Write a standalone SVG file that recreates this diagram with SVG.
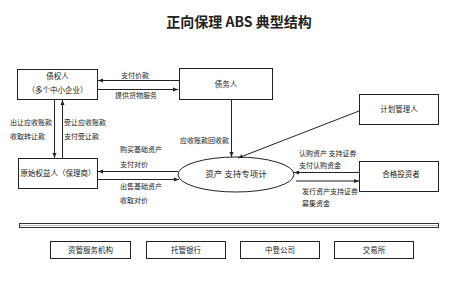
<svg xmlns="http://www.w3.org/2000/svg" width="474" height="284" viewBox="0 0 474 284">
<defs>
<style>
.box{fill:#fff;stroke:#222;stroke-width:1}
.ln{stroke:#222;stroke-width:1;fill:none}
.t{font-family:"Noto Sans CJK SC","Liberation Sans",sans-serif;fill:#222}
.nt{font-size:7.5px;text-anchor:middle}
.lb{font-size:7px}
.ti{font-size:14px;font-weight:bold;text-anchor:middle}
</style>
<marker id="ah" viewBox="0 0 10 10" refX="10" refY="5" markerWidth="5" markerHeight="5" orient="auto" markerUnits="userSpaceOnUse">
<path d="M0,1 L10,5 L0,9 z" fill="#222"/>
</marker>
</defs>
<rect width="474" height="284" fill="#fff"/>
<text class="t ti" x="239" y="27">正向保理 ABS 典型结构</text>

<g id="n-creditor">
<rect class="box" x="17.5" y="69.5" width="80" height="30"/>
<text class="t nt" x="57.5" y="78.8">债权人</text>
<text class="t nt" x="57.5" y="92.8">（多个中小企业）</text>
</g>
<g id="n-debtor">
<rect class="box" x="179.5" y="68.5" width="93" height="31"/>
<text class="t nt" x="226" y="86.8">债务人</text>
</g>
<g id="n-manager">
<rect class="box" x="359.5" y="94.5" width="79" height="30"/>
<text class="t nt" x="399" y="112">计划管理人</text>
</g>
<g id="n-originator">
<rect class="box" x="18.5" y="158.5" width="79" height="30"/>
<text class="t nt" x="58" y="176.2">原始权益人（保理商）</text>
</g>
<g id="n-spv">
<ellipse class="box" cx="236" cy="174.5" rx="58" ry="17.5"/>
<text class="t" x="236" y="177.3" font-size="8.5" text-anchor="middle">资产 支持专项计</text>
</g>
<g id="n-investor">
<rect class="box" x="359.5" y="161.5" width="79" height="30"/>
<text class="t nt" x="401" y="177">合格投资者</text>
</g>
<g id="n-bar">
<rect x="19.5" y="223.5" width="419" height="4" fill="#fff" stroke="#333" stroke-width="1"/>
<line x1="20" y1="225.5" x2="438" y2="225.5" stroke="#bbb" stroke-width="1"/>
</g>
<g id="n-asset-service">
<rect class="box" x="50.5" y="241.5" width="80" height="17" stroke="#444"/>
<text class="t nt" x="90.5" y="252.5">资管服务机构</text>
</g>
<g id="n-custodian">
<rect class="box" x="146.5" y="241.5" width="79" height="17" stroke="#444"/>
<text class="t nt" x="186" y="252.5">托管银行</text>
</g>
<g id="n-csdc">
<rect class="box" x="240.5" y="241.5" width="79" height="17" stroke="#444"/>
<text class="t nt" x="280" y="252.5">中登公司</text>
</g>
<g id="n-exchange">
<rect class="box" x="334.5" y="241.5" width="79" height="17" stroke="#444"/>
<text class="t nt" x="374" y="252.5">交易所</text>
</g>

<g id="connectors">
<line class="ln" x1="179" y1="80.5" x2="98" y2="80.5" marker-end="url(#ah)"/>
<line class="ln" x1="98" y1="89.5" x2="178" y2="89.5" marker-end="url(#ah)"/>
<line class="ln" x1="54.5" y1="100" x2="54.5" y2="158" marker-end="url(#ah)"/>
<line class="ln" x1="62.5" y1="158" x2="62.5" y2="100" marker-end="url(#ah)"/>
<line class="ln" x1="178" y1="171.5" x2="98" y2="171.5" marker-end="url(#ah)"/>
<line class="ln" x1="98" y1="179.5" x2="179" y2="179.5" marker-end="url(#ah)"/>
<line class="ln" x1="231.5" y1="100" x2="231.5" y2="157" marker-end="url(#ah)"/>
<line class="ln" x1="359" y1="111" x2="238" y2="158" marker-end="url(#ah)"/>
<line class="ln" x1="359" y1="172.5" x2="294" y2="172.5" marker-end="url(#ah)"/>
<line class="ln" x1="296" y1="181" x2="359" y2="181" marker-end="url(#ah)"/>

<text class="t lb" x="135" y="78" text-anchor="middle">支付价款</text>
<text class="t lb" x="136" y="97.5" text-anchor="middle">提供货物服务</text>
<text class="t lb" x="10" y="124.5">出让应收账款</text>
<text class="t lb" x="10" y="138.5">收取转让款</text>
<text class="t lb" x="64" y="124.5">受让应收账款</text>
<text class="t lb" x="64" y="138.5">支付受让款</text>
<text class="t lb" x="229" y="142.5" text-anchor="end">应收账款回收款</text>
<text class="t lb" x="120" y="151.5">购买基础资产</text>
<text class="t lb" x="120" y="166.5">支付对价</text>
<text class="t lb" x="120" y="188.5">出售基础资产</text>
<text class="t lb" x="120" y="202.5">收取对价</text>
<text class="t lb" x="299" y="155.5">认购资产 支持证券</text>
<text class="t lb" x="299" y="167.5">支付认购资金</text>
<text class="t lb" x="302" y="193.5">发行资产支持证券</text>
<text class="t lb" x="302" y="205.5">募集资金</text>
</g>
</svg>
